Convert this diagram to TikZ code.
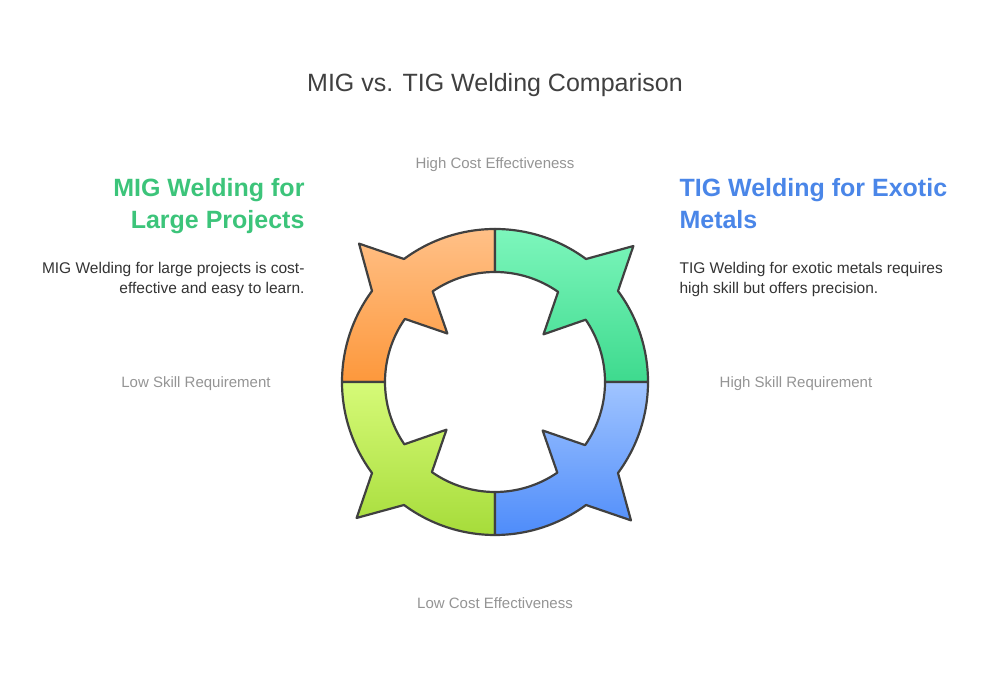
\documentclass[tikz,border=0pt]{standalone}
\usepackage{fontspec}
\setmainfont{Liberation Sans}
\begin{document}
\begin{tikzpicture}[x=1pt,y=1pt,
  petal/.style={draw=black!75,line width=2.2pt,line join=round},
  lbl/.style={text=black!42,font=\fontsize{15}{18}\selectfont},
  head/.style={font=\bfseries\fontsize{25}{32}\selectfont,align=right},
  body/.style={text=black!80,font=\fontsize{15.5}{20}\selectfont}]
\useasboundingbox (0,0) rectangle (1000,700);
\newcommand\petal[4]{%
\path[petal,top color=#2,bottom color=#3,shift={(495,318)}] ({90+#1}:153) arc[start angle={90+#1},end angle={126.5+#1},radius=153] -- ({134.5+#1}:194) -- ({143.5+#1}:153) arc[start angle={143.5+#1},end angle={180+#1},radius=153] -- ({180+#1}:110) arc[start angle={180+#1},end angle={145+#1},radius=110] -- ({134.5+#1}:68) -- ({124.5+#1}:110) arc[start angle={124.5+#1},end angle={90+#1},radius=110] -- cycle;
\coordinate (#4) at (495,318);}
\petal{0}{{rgb,255:red,255;green,192;blue,135}}{{rgb,255:red,253;green,152;blue,60}}{pTL}
\petal{-90}{{rgb,255:red,125;green,246;blue,188}}{{rgb,255:red,62;green,218;blue,142}}{pTR}
\petal{90}{{rgb,255:red,214;green,250;blue,120}}{{rgb,255:red,166;green,220;blue,58}}{pBL}
\petal{180}{{rgb,255:red,160;green,196;blue,255}}{{rgb,255:red,78;green,140;blue,250}}{pBR}
\node[text=black!75,font=\fontsize{25}{30}\selectfont] (title) at (495,615) {MIG vs. TIG Welding Comparison};
\node[head,text={rgb,255:red,60;green,196;blue,122},anchor=north east] (mig) at (308,525) {MIG Welding for\\Large Projects};
\node[body,align=right,anchor=north east] (migb) at (308,441) {MIG Welding for large projects is cost-\\effective and easy to learn.};
\node[head,align=left,text={rgb,255:red,74;green,134;blue,232},anchor=north west] (tig) at (676,525) {TIG Welding for Exotic\\Metals};
\node[body,align=left,anchor=north west] (tigb) at (676,441) {TIG Welding for exotic metals requires\\high skill but offers precision.};
\node[lbl] (hc) at (495,535) {High Cost Effectiveness};
\node[lbl] (lc) at (495,97) {Low Cost Effectiveness};
\node[lbl] (ls) at (196,316) {Low Skill Requirement};
\node[lbl] (hs) at (796,316) {High Skill Requirement};
\end{tikzpicture}
\end{document}
